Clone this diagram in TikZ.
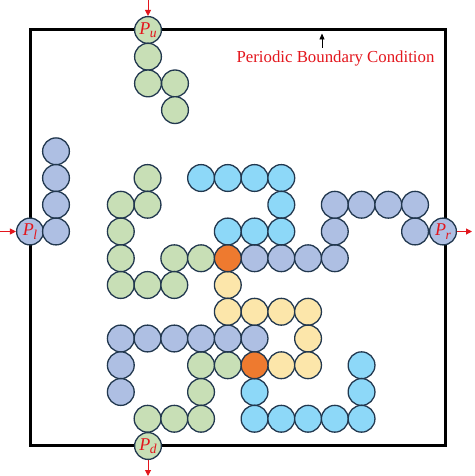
\documentclass[tikz,border=0pt]{standalone}
\usepackage{fontspec}
\setmainfont{Liberation Serif}
\usetikzlibrary{arrows.meta}
\definecolor{gfill}{HTML}{C8DFB6}
\definecolor{bfill}{HTML}{AEBFE3}
\definecolor{cfill}{HTML}{8DD8F8}
\definecolor{yfill}{HTML}{FCE6AA}
\definecolor{ofill}{HTML}{EE7A2F}
\definecolor{edge}{HTML}{22384F}
\definecolor{pred}{HTML}{E3161D}
\newcommand\mycirc[4]{\node[#1] (#2) at ({120.8+26.75*(#3)},{178+26.75*(#4)}) {};}
\newcommand\plab[1]{{\fontsize{18}{18}\selectfont\itshape P\kern-0.5pt\raisebox{-3.5pt}{\fontsize{13.5}{13.5}\selectfont #1}}}
\tikzset{
  bead/.style={circle,draw=edge,line width=1.3pt,minimum size=26.8pt,inner sep=0pt},
  gc/.style={bead,fill=gfill},
  bc/.style={bead,fill=bfill},
  cc/.style={bead,fill=cfill},
  yc/.style={bead,fill=yfill},
  oc/.style={bead,fill=ofill},
  redarrow/.style={draw=pred,line width=1pt,-{Triangle[length=6pt,width=6pt]}},
  plabel/.style={text=pred}
}
\begin{document}
\begin{tikzpicture}[x=1pt,y=-1pt]
\useasboundingbox (0,0) rectangle (474,476);
% periodic box
\draw[line width=3pt] (30,30) rectangle (445,445);
% label
\node[text=pred,font=\fontsize{16.8}{18}\selectfont,anchor=base] (lbl) at (335.5,63) {Periodic Boundary Condition};
\coordinate (bt) at (322,33.5);
\draw[line width=0.9pt,-{Triangle[length=6pt,width=5pt]}] (lbl.north -| bt) -- (bt);
% boundary beads
\node[gc,plabel] (Pu) at (148,30) {\plab{u}};
\node[gc,plabel] (Pd) at (148,446) {\plab{d}};
\node[bc,plabel] (Pl) at (30,231.5) {\plab{l}};
\node[bc,plabel] (Pr) at (443,231.5) {\plab{r}};
% red arrows
\coordinate (au) at (148,0);
\coordinate (al) at (0,231.5);
\coordinate (ar) at (472,231.5);
\coordinate (ad) at (148,476);
\draw[redarrow] (au) -- (Pu.north);
\draw[redarrow] (al) -- (Pl.west);
\draw[redarrow] (Pr.east) -- (ar);
\draw[redarrow] (Pd.south) -- (ad);
% top green chain
\node[gc] (t1) at (148,56.7) {};
\node[gc] (t2) at (148,83.4) {};
\node[gc] (t3) at (175,83.4) {};
\node[gc] (t4) at (175,110.1) {};
% left blue column
\node[bc] (l1) at (56,151.3) {};
\node[bc] (l2) at (56,178) {};
\node[bc] (l3) at (56,204.8) {};
\node[bc] (l4) at (56,231.5) {};
% green cluster
\mycirc{gc}{g1}{1}{0}
\mycirc{gc}{g2}{0}{1}
\mycirc{gc}{g3}{1}{1}
\mycirc{gc}{g4}{0}{2}
\mycirc{gc}{g5}{0}{3}
\mycirc{gc}{g6}{2}{3}
\mycirc{gc}{g7}{3}{3}
\mycirc{gc}{g8}{0}{4}
\mycirc{gc}{g9}{1}{4}
\mycirc{gc}{g10}{2}{4}
\mycirc{gc}{g11}{3}{7}
\mycirc{gc}{g12}{4}{7}
\mycirc{gc}{g13}{3}{8}
\mycirc{gc}{g14}{1}{9}
\mycirc{gc}{g15}{2}{9}
\mycirc{gc}{g16}{3}{9}
% blue chains
\mycirc{bc}{b1}{5}{3}
\mycirc{bc}{b2}{6}{3}
\mycirc{bc}{b3}{7}{3}
\mycirc{bc}{b4}{8}{3}
\mycirc{bc}{b5}{8}{2}
\mycirc{bc}{b6}{8}{1}
\mycirc{bc}{b7}{9}{1}
\mycirc{bc}{b8}{10}{1}
\mycirc{bc}{b9}{11}{1}
\mycirc{bc}{b10}{11}{2}
\mycirc{bc}{b11}{0}{6}
\mycirc{bc}{b12}{1}{6}
\mycirc{bc}{b13}{2}{6}
\mycirc{bc}{b14}{3}{6}
\mycirc{bc}{b15}{4}{6}
\mycirc{bc}{b16}{5}{6}
\mycirc{bc}{b17}{0}{7}
\mycirc{bc}{b18}{0}{8}
% light blue chains
\mycirc{cc}{c1}{3}{0}
\mycirc{cc}{c2}{4}{0}
\mycirc{cc}{c3}{5}{0}
\mycirc{cc}{c4}{6}{0}
\mycirc{cc}{c5}{6}{1}
\mycirc{cc}{c6}{4}{2}
\mycirc{cc}{c7}{5}{2}
\mycirc{cc}{c8}{6}{2}
\mycirc{cc}{c9}{9}{7}
\mycirc{cc}{c10}{9}{8}
\mycirc{cc}{c11}{5}{8}
\mycirc{cc}{c12}{5}{9}
\mycirc{cc}{c13}{6}{9}
\mycirc{cc}{c14}{7}{9}
\mycirc{cc}{c15}{8}{9}
\mycirc{cc}{c16}{9}{9}
% yellow chain
\mycirc{yc}{y1}{4}{4}
\mycirc{yc}{y2}{4}{5}
\mycirc{yc}{y3}{5}{5}
\mycirc{yc}{y4}{6}{5}
\mycirc{yc}{y5}{7}{5}
\mycirc{yc}{y6}{7}{6}
\mycirc{yc}{y7}{6}{7}
\mycirc{yc}{y8}{7}{7}
% orange junctions
\mycirc{oc}{o1}{4}{3}
\mycirc{oc}{o2}{5}{7}
\end{tikzpicture}
\end{document}
